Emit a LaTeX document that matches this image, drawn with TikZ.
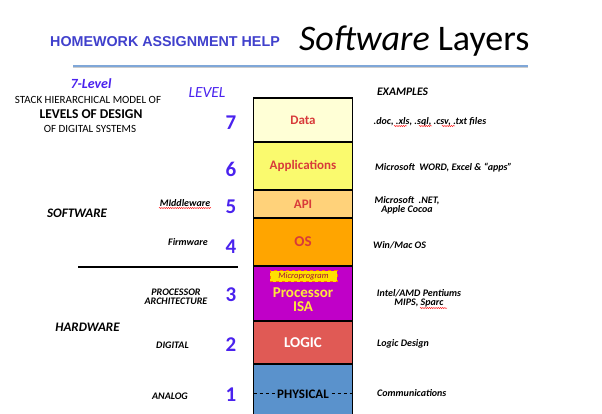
\documentclass[tikz,border=0pt]{standalone}
\usepackage{fontspec}
\setmainfont{Carlito}
\newfontfamily\arialfont{Liberation Sans}
\usetikzlibrary{decorations.pathmorphing}
\definecolor{titleblue}{HTML}{4040CC}
\definecolor{numblue}{HTML}{4A22EE}
\definecolor{rulblue}{HTML}{7FA7D8}
\definecolor{labred}{HTML}{D83A3A}
\definecolor{cData}{HTML}{FFFFD6}
\definecolor{cApp}{HTML}{FAFA6E}
\definecolor{cApi}{HTML}{FFD27A}
\definecolor{cOs}{HTML}{FFA500}
\definecolor{cProc}{HTML}{C000C8}
\definecolor{cLogic}{HTML}{E05A55}
\definecolor{cPhys}{HTML}{5A92CC}
\definecolor{isayellow}{HTML}{FFE83A}
\definecolor{mpyellow}{HTML}{FFE000}
\definecolor{mpred}{HTML}{A0103A}
\newcommand{\fs}[1]{\fontsize{#1}{#1}\selectfont}
\begin{document}
\begin{tikzpicture}[x=1pt,y=-1pt,
  layerbox/.style={draw=black,line width=1.6pt,minimum width=99pt,inner sep=0pt,outer sep=0pt,rectangle},
  boxlab/.style={font=\fs{13}\bfseries,text=labred},
  num/.style={font=\fs{21}\bfseries,text=numblue,inner sep=0pt},
  lefttxt/.style={font=\fs{10}\bfseries\itshape,inner sep=0pt,align=center},
  bigside/.style={font=\fs{13}\bfseries\itshape,inner sep=0pt},
  extxt/.style={font=\fs{10}\bfseries\itshape,inner sep=0pt,align=center},
  squig/.style={draw=red,line width=0.4pt,decorate,decoration={snake,amplitude=0.6pt,segment length=2.2pt}}
]
\useasboundingbox (0,0) rectangle (602,413);
% title
\node[font=\arialfont\fs{14.3}\bfseries,text=titleblue,inner sep=0pt] (hw) at (165,42) {HOMEWORK ASSIGNMENT HELP};
\node[font=\fs{36},inner sep=0pt,anchor=base west] (title) at (299,50) {\textit{Software} Layers};
\coordinate (ruleL) at (73,66);
\coordinate (ruleR) at (528,66);
\draw[gray!40,line width=1.5pt] ([yshift=-1.5pt]ruleL) -- ([yshift=-1.5pt]ruleR);
\draw[rulblue,line width=2pt] (ruleL) -- (ruleR);

% left header
\node[font=\fs{14}\bfseries\itshape,text=numblue,inner sep=0pt] (sev) at (91,84) {7-Level};
\node[font=\fs{11},inner sep=0pt] (stack) at (88,99.5) {STACK HIERARCHICAL MODEL OF};
\node[font=\fs{13.5}\bfseries,inner sep=0pt] (lod) at (91,114) {LEVELS OF DESIGN};
\node[font=\fs{11},inner sep=0pt] (ofd) at (90,128.5) {OF DIGITAL SYSTEMS};
\node[font=\fs{15.5}\itshape,text=numblue,inner sep=0pt] (lvl) at (207,93) {LEVEL};
\node[font=\fs{11.5}\bfseries\itshape,inner sep=0pt] (exh) at (402.5,92) {EXAMPLES};

% stack
\node[layerbox,fill=cData,minimum height=44pt,boxlab] (data) at (303,120) {Data};
\node[layerbox,fill=cApp,minimum height=48pt,boxlab] (app) at (303,166) {Applications};
\node[layerbox,fill=cApi,minimum height=28pt,boxlab] (api) at (303,204) {API};
\node[layerbox,fill=cOs,minimum height=48pt,boxlab,font=\fs{15}\bfseries] (os) at (303,242) {OS};
\node[layerbox,fill=cProc,minimum height=55pt] (proc) at (303,293.5) {};
\node[layerbox,fill=cLogic,minimum height=43pt,font=\fs{15}\bfseries,text=white] (logic) at (303,342.5) {LOGIC};
\node[layerbox,fill=cPhys,minimum height=55pt] (phys) at (303,391.5) {};
\node[draw=orange!90!red,dashed,line width=0.5pt,fill=mpyellow,minimum width=67pt,minimum height=11pt,inner sep=0pt,font=\fs{8.5}\itshape,text=mpred] (micro) at (303.5,276) {Microprogram};
\node[font=\fs{15}\bfseries,text=isayellow,align=center,inner sep=0pt] (isa) at (303,299.5) {Processor\\[-1pt]ISA};
\draw[dashed,line width=0.7pt] (phys.west |- 0,393) -- (phys.east |- 0,393);
\node[font=\fs{13}\bfseries,inner sep=0.5pt,fill=cPhys] (physlab) at (303,394.5) {PHYSICAL};

% numbers
\node[num] (n7) at (231,123) {7};
\node[num] (n6) at (231,169.5) {6};
\node[num] (n5) at (231,206.5) {5};
\node[num] (n4) at (231,246.5) {4};
\node[num] (n3) at (231,295) {3};
\node[num] (n2) at (231,345) {2};
\node[num] (n1) at (231,395) {1};

% left labels
\node[bigside] (sw) at (77,213) {SOFTWARE};
\node[lefttxt] (mid) at (185,203) {MIddleware};
\node[lefttxt] (firm) at (188,242) {Firmware};
\coordinate (sepL) at (78,267);
\coordinate (sepR) at (238,267);
\draw[line width=1.3pt] (sepL) -- (sepR);
\node[bigside] (hwl) at (87.5,327) {HARDWARE};
\node[lefttxt] (pa) at (176,296.5) {PROCESSOR\\[-1pt]ARCHITECTURE};
\node[lefttxt] (dig) at (172.5,345.5) {DIGITAL};
\node[lefttxt] (ana) at (170,396) {ANALOG};

% examples
\node[extxt] (e7) at (430,121.5) {.doc, .xls, .sql, .csv, .txt files};
\node[extxt,anchor=west] (e6) at (375,167.5) {Microsoft\ \ WORD, Excel \& “apps”};
\node[extxt] (e5) at (407,205) {Microsoft\ \ .NET,\\[-1pt]Apple Cocoa};
\node[extxt,anchor=west] (e4) at (373,245) {Win/Mac OS};
\node[extxt] (e3) at (419,298) {Intel/AMD Pentiums\\[-1pt]MIPS, Sparc};
\node[extxt,anchor=west] (e2) at (377,344) {Logic Design};
\node[extxt,anchor=west] (e1) at (377,393.5) {Communications};

% spell-check squiggles
\draw[squig] (159,208) -- (211,208);
\draw[squig] (394,126) -- (407,126);
\draw[squig] (419,126) -- (432,126);
\draw[squig] (442,126) -- (455,126);
\draw[squig] (420,308) -- (447,308);
\end{tikzpicture}
\end{document}
